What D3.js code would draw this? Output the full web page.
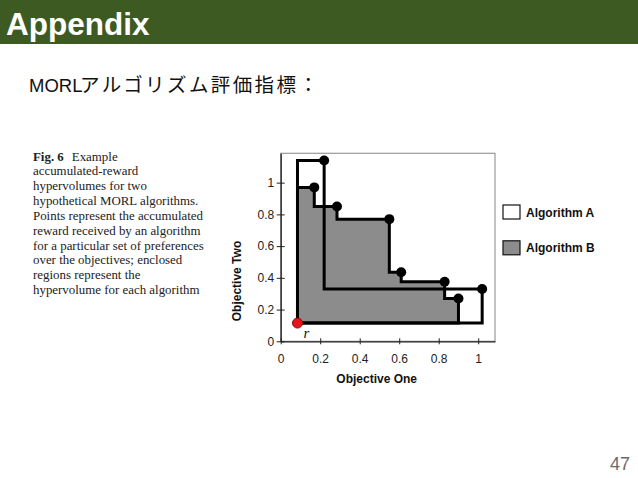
<!DOCTYPE html>
<html>
<head>
<meta charset="utf-8">
<script src="https://cdn.jsdelivr.net/npm/d3@7"></script>
<style>
  body { margin: 0; background: #fff; }
  svg { display: block; }
</style>
</head>
<body>
<svg id="slide" width="638" height="478"></svg>
<script>
// reference point r and the reward points of the two algorithms
const refPoint = [0.085, 0.115];
const algA = [[0.22, 1.14], [1.02, 0.33]];
const algB = [[0.17, 0.97], [0.285, 0.85], [0.55, 0.77], [0.61, 0.435], [0.83, 0.375], [0.90, 0.27]];
const xTicks = [0, 0.2, 0.4, 0.6, 0.8, 1];
const yTicks = [0, 0.2, 0.4, 0.6, 0.8, 1];
const tickLabels = ["0", "0.2", "0.4", "0.6", "0.8", "1"];
const legendNames = ["Algorithm A", "Algorithm B"];
const caption = [
  "Example",
  "accumulated-reward",
  "hypervolumes for two",
  "hypothetical MORL algorithms.",
  "Points represent the accumulated",
  "reward received by an algorithm",
  "for a particular set of preferences",
  "over the objectives; enclosed",
  "regions represent the",
  "hypervolume for each algorithm"
];

const svg = d3.select("#slide");
const sans = "Liberation Sans, Arial, sans-serif";

// header band
svg.append("rect").attr("x", 0).attr("y", 0).attr("width", 638).attr("height", 44).attr("fill", "#3d5a22");
svg.append("text").attr("x", 6).attr("y", 35).text("Appendix")
  .attr("font-family", sans).attr("font-weight", "bold").attr("font-size", 31.5).attr("fill", "#fff");
const sub = svg.append("text").attr("y", 91.5).attr("fill", "#111");
sub.append("tspan").attr("x", 29).attr("font-family", sans).attr("font-size", 18.5).text("MORL");
sub.append("tspan").attr("x", 80).attr("font-family", "Noto Sans CJK JP, sans-serif").attr("font-size", 19.5)
  .attr("letter-spacing", 2.4).text("アルゴリズム評価指標：");

// caption
const cap = svg.append("text").attr("font-family", "Liberation Serif, Times New Roman, serif")
  .attr("font-size", 12.9).attr("fill", "#222");
caption.forEach(function(line, i) {
  const t = cap.append("tspan").attr("x", 33).attr("y", 160.5 + i * 14.85);
  if (i == 0) {
    t.append("tspan").attr("font-weight", "bold").text("Fig. 6");
    t.append("tspan").attr("dx", 8).text(line);
  } else {
    t.text(line);
  }
});

// chart
const xScale = d3.scaleLinear().domain([0, 1.085]).range([280.7, 495]);
const yScale = d3.scaleLinear().domain([0, 1.185]).range([341.3, 153.3]);

svg.append("rect").attr("x", xScale(0)).attr("y", yScale(1.185))
  .attr("width", xScale(1.085) - xScale(0)).attr("height", yScale(0) - yScale(1.185))
  .attr("fill", "#fff").attr("stroke", "#9a9a9a").attr("stroke-width", 1.2);

function stairs(points) {
  var pts = [[refPoint[0], refPoint[1]], [refPoint[0], points[0][1]]];
  points.forEach(function(p, i) {
    pts.push([p[0], p[1]]);
    if (i < points.length - 1) {
      pts.push([p[0], points[i + 1][1]]);
    } else {
      pts.push([p[0], refPoint[1]]);
    }
  });
  return pts;
}
const line = d3.line().x(d => xScale(d[0])).y(d => yScale(d[1])).curve(d3.curveLinearClosed);

svg.append("path").attr("d", line(stairs(algA))).attr("fill", "#fff").attr("stroke", "none");
svg.append("path").attr("d", line(stairs(algB))).attr("fill", "#8c8c8c").attr("stroke", "none");
svg.append("path").attr("d", line(stairs(algB))).attr("fill", "none").attr("stroke", "#000").attr("stroke-width", 3).attr("stroke-linejoin", "miter");
svg.append("path").attr("d", line(stairs(algA))).attr("fill", "none").attr("stroke", "#000").attr("stroke-width", 3).attr("stroke-linejoin", "miter");

svg.selectAll("circle.pt").data(algA.concat(algB)).enter().append("circle").attr("class", "pt")
  .attr("cx", d => xScale(d[0])).attr("cy", d => yScale(d[1])).attr("r", 5).attr("fill", "#000");
svg.append("circle").attr("cx", xScale(refPoint[0])).attr("cy", yScale(refPoint[1])).attr("r", 5)
  .attr("fill", "#e8141b").attr("stroke", "#8a0a0a").attr("stroke-width", 1);
svg.append("text").attr("x", xScale(refPoint[0]) + 6).attr("y", yScale(refPoint[1]) + 15).text("r")
  .attr("font-family", "Liberation Serif, serif").attr("font-style", "italic").attr("font-size", 15).attr("fill", "#111");

// axes
const yAxis = d3.axisLeft(yScale).tickValues(yTicks).tickSizeInner(-3.5).tickSizeOuter(0)
  .tickFormat((d, i) => tickLabels[i]);
const yg = svg.append("g").attr("transform", "translate(" + xScale(0) + ",0)").call(yAxis);
yg.select(".domain").attr("stroke", "#222").attr("stroke-width", 1.3);
yg.selectAll(".tick line").attr("x1", -4).attr("x2", 4).attr("stroke", "#222");
yg.selectAll(".tick text").attr("x", -6.5).attr("font-family", sans).attr("fill", "#222");

const xAxis = d3.axisBottom(xScale).tickValues(xTicks).tickSizeInner(3.5).tickSizeOuter(0)
  .tickFormat((d, i) => tickLabels[i]);
const xg = svg.append("g").attr("transform", "translate(0," + yScale(0) + ")").call(xAxis);
xg.select(".domain").attr("stroke", "#222").attr("stroke-width", 1.3);
xg.selectAll(".tick line").attr("y1", -3).attr("y2", 3).attr("stroke", "#222");
xg.selectAll(".tick text").attr("y", 13).attr("font-family", sans).attr("fill", "#222");
svg.selectAll(".tick text").attr("font-size", 12);

svg.append("text").attr("x", 376.7).attr("y", 383).attr("text-anchor", "middle").text("Objective One")
  .attr("font-family", sans).attr("font-weight", "bold").attr("font-size", 12).attr("fill", "#111");
svg.append("text").attr("transform", "translate(241,281) rotate(-90)").attr("text-anchor", "middle").text("Objective Two")
  .attr("font-family", sans).attr("font-weight", "bold").attr("font-size", 12).attr("fill", "#111");

// legend
const legendFill = ["#fff", "#8c8c8c"];
const lg = svg.selectAll("g.leg").data(legendNames).enter().append("g").attr("class", "leg")
  .attr("transform", (d, i) => "translate(503," + (205 + i * 35.8) + ")");
lg.append("rect").attr("width", 17).attr("height", 14).attr("fill", (d, i) => legendFill[i])
  .attr("stroke", "#111").attr("stroke-width", 1.2);
lg.append("text").attr("x", 23).attr("y", 11.5).text(d => d)
  .attr("font-family", sans).attr("font-weight", "bold").attr("font-size", 12).attr("fill", "#111");

// page number
svg.append("text").attr("x", 630).attr("y", 470).attr("text-anchor", "end").text("47")
  .attr("font-family", sans).attr("font-size", 18).attr("fill", "#6b6b6b");
</script>
</body>
</html>
